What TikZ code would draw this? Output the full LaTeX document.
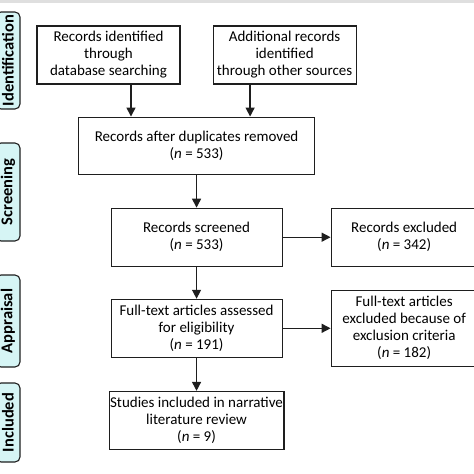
\documentclass[tikz,border=0pt]{standalone}
\usepackage{fontspec}
\setmainfont{Carlito}
\usetikzlibrary{arrows.meta, positioning, calc}
\definecolor{stagefill}{RGB}{214,245,245}
\definecolor{boxline}{RGB}{30,30,30}

\begin{document}
\begin{tikzpicture}[
  x=1pt, y=1pt,
  node distance=32pt,
  box/.style={draw=boxline, line width=1.1pt, minimum width=143pt, minimum height=58pt,
              align=center, inner sep=1pt, font=\fontsize{15}{17}\selectfont},
  wide/.style={box, minimum width=236pt, minimum height=57pt},
  mid/.style={box, minimum width=171pt},
  side/.style={box, minimum width=146pt},
  stage/.style={draw=boxline, line width=1.1pt, rounded corners=5pt, fill=stagefill,
                rotate=90, minimum height=24pt, inner sep=0pt,
                font=\bfseries\fontsize{16.5}{18}\selectfont},
  arr/.style={-{Triangle[length=9pt, width=9pt]}, line width=1.4pt, boxline}
]
\useasboundingbox (0,0) rectangle (474,-474);
\clip (0,0) rectangle (474,-474);
\fill[gray!25] (0,0) rectangle (474,-3);

% stages
\node[stage, minimum width=97pt] (ident) at (8,-60.5) {Identification};
\node[stage, minimum width=98pt] (scr) at (8,-192) {Screening};
\node[stage, minimum width=92pt] (appr) at (8,-321) {Appraisal};
\node[stage, minimum width=79pt] (inc) at (8,-422.5) {Included};

% flow
\node[box] (db) at (108.5,-55) {Records identified\\through\\database searching};
\node[box, right=of db] (other) {Additional records\\identified\\through other sources};
\coordinate (top) at ($(db.south)!0.5!(other.south)$);
\node[wide, below=32pt of top] (dup) {Records after duplicates removed\\(\textit{n} = 533)};
\node[mid, below=33pt of dup] (screen) {Records screened\\(\textit{n} = 533)};
\node[side, right=48pt of screen] (excl) {Records excluded\\(\textit{n} = 342)};
\node[mid, below=32pt of screen] (full) {Full-text articles assessed\\for eligibility\\(\textit{n} = 191)};
\node[side, minimum height=76pt, right=48pt of full] (fullexcl) {Full-text articles\\excluded because of\\exclusion criteria\\(\textit{n} = 182)};
\node[mid, below=33pt of full] (incl) {Studies included in narrative\\literature review\\(\textit{n} = 9)};

\coordinate (dbout) at ([xshift=22.5pt]db.south);
\coordinate (otherout) at ([xshift=-34.5pt]other.south);
\draw[arr] (dbout) -- (dbout |- dup.north);
\draw[arr] (otherout) -- (otherout |- dup.north);
\draw[arr] (dup) -- (screen);
\draw[arr] (screen) -- (excl);
\draw[arr] (screen) -- (full);
\draw[arr] (full.east) -- (full.east -| fullexcl.west);
\draw[arr] (full) -- (incl);
\end{tikzpicture}
\end{document}
